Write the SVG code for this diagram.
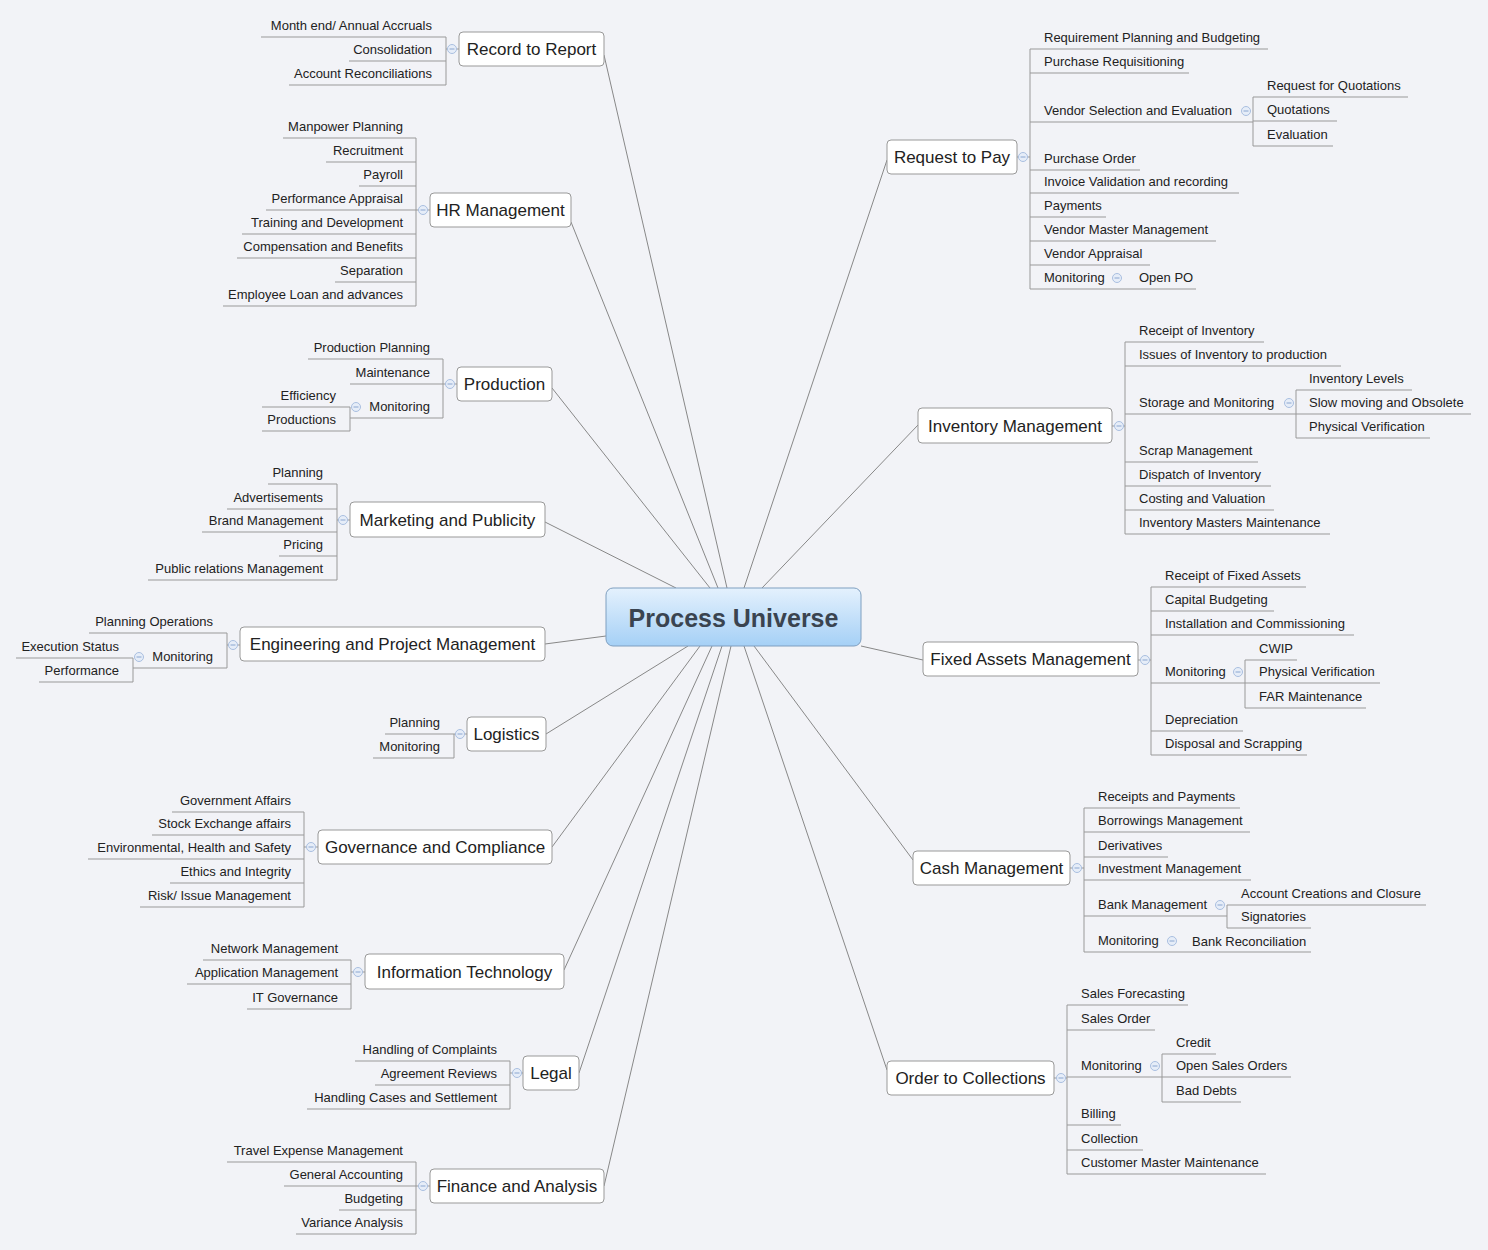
<svg xmlns="http://www.w3.org/2000/svg" width="1488" height="1250" viewBox="0 0 1488 1250">
<defs>
<style>
text{font-family:"Liberation Sans",Arial,sans-serif;fill:#222}
.l{font-size:13px}
.le{font-size:13px;text-anchor:end}
.m{font-size:17px;text-anchor:middle}
.b{fill:#fff;stroke:#999;stroke-width:1}
.u{stroke:#999;stroke-width:1;fill:none}
.c{stroke:#888;stroke-width:1;fill:none}
.o{fill:#e6edf8;stroke:#a9bfe0;stroke-width:1}
.om{stroke:#8aa6d0;stroke-width:1}
</style>
<linearGradient id="cg" x1="0" y1="0" x2="0" y2="1">
<stop offset="0" stop-color="#e4f1fd"/><stop offset="1" stop-color="#a5d0f6"/>
</linearGradient>
<g id="col"><circle class="o" r="4.5"/><line class="om" x1="-2.5" y1="0" x2="2.5" y2="0"/></g>
</defs>
<rect width="1488" height="1250" fill="#f2f3f7"/>

<g id="connectors" class="c">
<line x1="604" y1="55" x2="727" y2="588"/>
<line x1="571" y1="222" x2="718" y2="588"/>
<line x1="552" y1="388" x2="710" y2="588"/>
<line x1="545" y1="522" x2="676" y2="588"/>
<line x1="545" y1="644" x2="606" y2="636"/>
<line x1="546" y1="734" x2="688" y2="646"/>
<line x1="552" y1="847" x2="700" y2="646"/>
<line x1="564" y1="970" x2="712" y2="646"/>
<line x1="579" y1="1073" x2="722" y2="646"/>
<line x1="604" y1="1186" x2="731" y2="646"/>
<line x1="887" y1="160" x2="744" y2="588"/>
<line x1="918" y1="425" x2="762" y2="588"/>
<line x1="923" y1="660" x2="861" y2="646"/>
<line x1="913" y1="860" x2="754" y2="646"/>
<line x1="887" y1="1070" x2="744" y2="646"/>
</g>

<g id="center">
<rect x="606" y="588" width="255" height="58" rx="7" fill="url(#cg)" stroke="#7f9fc0"/>
<text x="733.5" y="627" font-size="25" font-weight="bold" text-anchor="middle" style="fill:#3a4450">Process Universe</text>
</g>

<!-- LEFT -->
<g id="record-to-report">
<rect class="b" x="459" y="32" width="145" height="34" rx="4"/><text class="m" x="531.5" y="55">Record to Report</text>
<path class="u" d="M459 49H446M446 37V85M261 37H446M349 61H446M289 85H446"/>
<use href="#col" x="452" y="49"/>
<text class="le" x="432" y="30">Month end/ Annual Accruals</text>
<text class="le" x="432" y="54">Consolidation</text>
<text class="le" x="432" y="78">Account Reconciliations</text>
</g>

<g id="hr-management">
<rect class="b" x="430" y="193" width="141" height="34" rx="4"/><text class="m" x="500.5" y="216">HR Management</text>
<path class="u" d="M430 210H416M416 138V306M283 138H416M326 162H416M359 186H416M266 210H416M242 234H416M237 258H416M335 282H416M223 306H416"/>
<use href="#col" x="423" y="210"/>
<text class="le" x="403" y="131">Manpower Planning</text>
<text class="le" x="403" y="155">Recruitment</text>
<text class="le" x="403" y="179">Payroll</text>
<text class="le" x="403" y="203">Performance Appraisal</text>
<text class="le" x="403" y="227">Training and Development</text>
<text class="le" x="403" y="251">Compensation and Benefits</text>
<text class="le" x="403" y="275">Separation</text>
<text class="le" x="403" y="299">Employee Loan and advances</text>
</g>

<g id="production">
<rect class="b" x="457" y="367" width="95" height="34" rx="4"/><text class="m" x="504.5" y="390">Production</text>
<path class="u" d="M457 384H443M443 359V418M308 359H443M350 384H443M350 418H443M350 407V431M262 407H350M262 431H350"/>
<use href="#col" x="450" y="384"/>
<use href="#col" x="356" y="407"/>
<text class="le" x="430" y="352">Production Planning</text>
<text class="le" x="430" y="377">Maintenance</text>
<text class="le" x="430" y="411">Monitoring</text>
<text class="le" x="336" y="400">Efficiency</text>
<text class="le" x="336" y="424">Productions</text>
</g>

<g id="marketing">
<rect class="b" x="350" y="502" width="195" height="35" rx="4"/><text class="m" x="447.5" y="526">Marketing and Publicity</text>
<path class="u" d="M350 520H337M337 484V580M268 484H337M227 509H337M202 532H337M279 556H337M148 580H337"/>
<use href="#col" x="343" y="520"/>
<text class="le" x="323" y="477">Planning</text>
<text class="le" x="323" y="502">Advertisements</text>
<text class="le" x="323" y="525">Brand Management</text>
<text class="le" x="323" y="549">Pricing</text>
<text class="le" x="323" y="573">Public relations Management</text>
</g>

<g id="engineering">
<rect class="b" x="240" y="627" width="305" height="34" rx="4"/><text class="m" x="392.5" y="650">Engineering and Project Management</text>
<path class="u" d="M240 645H227M227 633V668M89 633H227M133 668H227M133 658V682M16 658H133M39 682H133"/>
<use href="#col" x="233" y="645"/>
<use href="#col" x="139" y="657"/>
<text class="le" x="213" y="626">Planning Operations</text>
<text class="le" x="213" y="661">Monitoring</text>
<text class="le" x="119" y="651">Execution Status</text>
<text class="le" x="119" y="675">Performance</text>
</g>

<g id="logistics">
<rect class="b" x="467" y="717" width="79" height="34" rx="4"/><text class="m" x="506.5" y="740">Logistics</text>
<path class="u" d="M467 734H454M454 734V758M385 734H454M373 758H454"/>
<use href="#col" x="460" y="734"/>
<text class="le" x="440" y="727">Planning</text>
<text class="le" x="440" y="751">Monitoring</text>
</g>

<g id="governance">
<rect class="b" x="318" y="830" width="234" height="34" rx="4"/><text class="m" x="435" y="853">Governance and Compliance</text>
<path class="u" d="M318 847H304M304 812V907M172 812H304M152 835H304M88 859H304M170 883H304M140 907H304"/>
<use href="#col" x="311" y="847"/>
<text class="le" x="291" y="805">Government Affairs</text>
<text class="le" x="291" y="828">Stock Exchange affairs</text>
<text class="le" x="291" y="852">Environmental, Health and Safety</text>
<text class="le" x="291" y="876">Ethics and Integrity</text>
<text class="le" x="291" y="900">Risk/ Issue Management</text>
</g>

<g id="information-technology">
<rect class="b" x="365" y="954" width="199" height="35" rx="4"/><text class="m" x="464.5" y="978">Information Technology</text>
<path class="u" d="M365 972H351M351 960V1009M203 960H351M187 984H351M247 1009H351"/>
<use href="#col" x="358" y="972"/>
<text class="le" x="338" y="953">Network Management</text>
<text class="le" x="338" y="977">Application Management</text>
<text class="le" x="338" y="1002">IT Governance</text>
</g>

<g id="legal">
<rect class="b" x="523" y="1056" width="56" height="34" rx="4"/><text class="m" x="551" y="1079">Legal</text>
<path class="u" d="M523 1073H510M510 1061V1109M355 1061H510M375 1085H510M307 1109H510"/>
<use href="#col" x="517" y="1073"/>
<text class="le" x="497" y="1054">Handling of Complaints</text>
<text class="le" x="497" y="1078">Agreement Reviews</text>
<text class="le" x="497" y="1102">Handling Cases and Settlement</text>
</g>

<g id="finance">
<rect class="b" x="430" y="1169" width="174" height="34" rx="4"/><text class="m" x="517" y="1192">Finance and Analysis</text>
<path class="u" d="M430 1186H416M416 1162V1234M227 1162H416M284 1186H416M339 1210H416M296 1234H416"/>
<use href="#col" x="423" y="1186"/>
<text class="le" x="403" y="1155">Travel Expense Management</text>
<text class="le" x="403" y="1179">General Accounting</text>
<text class="le" x="403" y="1203">Budgeting</text>
<text class="le" x="403" y="1227">Variance Analysis</text>
</g>

<!-- RIGHT -->
<g id="request-to-pay">
<rect class="b" x="887" y="140" width="130" height="34" rx="4"/><text class="m" x="952" y="163">Request to Pay</text>
<path class="u" d="M1017 157H1030M1030 49V289M1030 49H1268M1030 73H1189M1030 122H1253M1253 97V146M1253 97H1408M1253 121H1337M1253 146H1333M1030 170H1140M1030 193H1239M1030 217H1106M1030 241H1216M1030 265H1150M1030 289H1196"/>
<use href="#col" x="1023" y="157"/>
<use href="#col" x="1246" y="111"/>
<use href="#col" x="1117" y="278"/>
<text class="l" x="1044" y="42">Requirement Planning and Budgeting</text>
<text class="l" x="1044" y="66">Purchase Requisitioning</text>
<text class="l" x="1044" y="115">Vendor Selection and Evaluation</text>
<text class="l" x="1267" y="90">Request for Quotations</text>
<text class="l" x="1267" y="114">Quotations</text>
<text class="l" x="1267" y="139">Evaluation</text>
<text class="l" x="1044" y="163">Purchase Order</text>
<text class="l" x="1044" y="186">Invoice Validation and recording</text>
<text class="l" x="1044" y="210">Payments</text>
<text class="l" x="1044" y="234">Vendor Master Management</text>
<text class="l" x="1044" y="258">Vendor Appraisal</text>
<text class="l" x="1044" y="282">Monitoring</text>
<text class="l" x="1139" y="282">Open PO</text>
</g>

<g id="inventory">
<rect class="b" x="918" y="408" width="194" height="35" rx="4"/><text class="m" x="1015" y="432">Inventory Management</text>
<path class="u" d="M1112 426H1125M1125 342V534M1125 342H1264M1125 366H1341M1125 414H1296M1296 390V438M1296 390H1412M1296 414H1471M1296 438H1430M1125 462H1258M1125 486H1271M1125 510H1274M1125 534H1330"/>
<use href="#col" x="1119" y="426"/>
<use href="#col" x="1289" y="403"/>
<text class="l" x="1139" y="335">Receipt of Inventory</text>
<text class="l" x="1139" y="359">Issues of Inventory to production</text>
<text class="l" x="1139" y="407">Storage and Monitoring</text>
<text class="l" x="1309" y="383">Inventory Levels</text>
<text class="l" x="1309" y="407">Slow moving and Obsolete</text>
<text class="l" x="1309" y="431">Physical Verification</text>
<text class="l" x="1139" y="455">Scrap Management</text>
<text class="l" x="1139" y="479">Dispatch of Inventory</text>
<text class="l" x="1139" y="503">Costing and Valuation</text>
<text class="l" x="1139" y="527">Inventory Masters Maintenance</text>
</g>

<g id="fixed-assets">
<rect class="b" x="923" y="642" width="215" height="34" rx="4"/><text class="m" x="1030.5" y="665">Fixed Assets Management</text>
<path class="u" d="M1138 660H1151M1151 587V755M1151 587H1306M1151 611H1274M1151 635H1354M1151 683H1245M1245 660V708M1245 660H1297M1245 683H1380M1245 708H1366M1151 731H1243M1151 755H1307"/>
<use href="#col" x="1145" y="660"/>
<use href="#col" x="1238" y="672"/>
<text class="l" x="1165" y="580">Receipt of Fixed Assets</text>
<text class="l" x="1165" y="604">Capital Budgeting</text>
<text class="l" x="1165" y="628">Installation and Commissioning</text>
<text class="l" x="1165" y="676">Monitoring</text>
<text class="l" x="1259" y="653">CWIP</text>
<text class="l" x="1259" y="676">Physical Verification</text>
<text class="l" x="1259" y="701">FAR Maintenance</text>
<text class="l" x="1165" y="724">Depreciation</text>
<text class="l" x="1165" y="748">Disposal and Scrapping</text>
</g>

<g id="cash">
<rect class="b" x="913" y="851" width="157" height="34" rx="4"/><text class="m" x="991.5" y="874">Cash Management</text>
<path class="u" d="M1070 868H1084M1084 808V952M1084 808H1240M1084 832H1250M1084 857H1168M1084 880H1251M1084 916H1227M1227 905V928M1227 905H1426M1227 928H1311M1084 952H1311"/>
<use href="#col" x="1077" y="868"/>
<use href="#col" x="1220" y="905"/>
<use href="#col" x="1172" y="941"/>
<text class="l" x="1098" y="801">Receipts and Payments</text>
<text class="l" x="1098" y="825">Borrowings Management</text>
<text class="l" x="1098" y="850">Derivatives</text>
<text class="l" x="1098" y="873">Investment Management</text>
<text class="l" x="1098" y="909">Bank Management</text>
<text class="l" x="1241" y="898">Account Creations and Closure</text>
<text class="l" x="1241" y="921">Signatories</text>
<text class="l" x="1098" y="945">Monitoring</text>
<text class="l" x="1192" y="946">Bank Reconciliation</text>
</g>

<g id="order-to-collections">
<rect class="b" x="887" y="1061" width="167" height="34" rx="4"/><text class="m" x="970.5" y="1084">Order to Collections</text>
<path class="u" d="M1054 1078H1067M1067 1005V1174M1067 1005H1188M1067 1030H1155M1067 1077H1162M1162 1054V1102M1162 1054H1216M1162 1077H1291M1162 1102H1241M1067 1125H1121M1067 1150H1143M1067 1174H1266"/>
<use href="#col" x="1061" y="1078"/>
<use href="#col" x="1155" y="1066"/>
<text class="l" x="1081" y="998">Sales Forecasting</text>
<text class="l" x="1081" y="1023">Sales Order</text>
<text class="l" x="1081" y="1070">Monitoring</text>
<text class="l" x="1176" y="1047">Credit</text>
<text class="l" x="1176" y="1070">Open Sales Orders</text>
<text class="l" x="1176" y="1095">Bad Debts</text>
<text class="l" x="1081" y="1118">Billing</text>
<text class="l" x="1081" y="1143">Collection</text>
<text class="l" x="1081" y="1167">Customer Master Maintenance</text>
</g>
</svg>
